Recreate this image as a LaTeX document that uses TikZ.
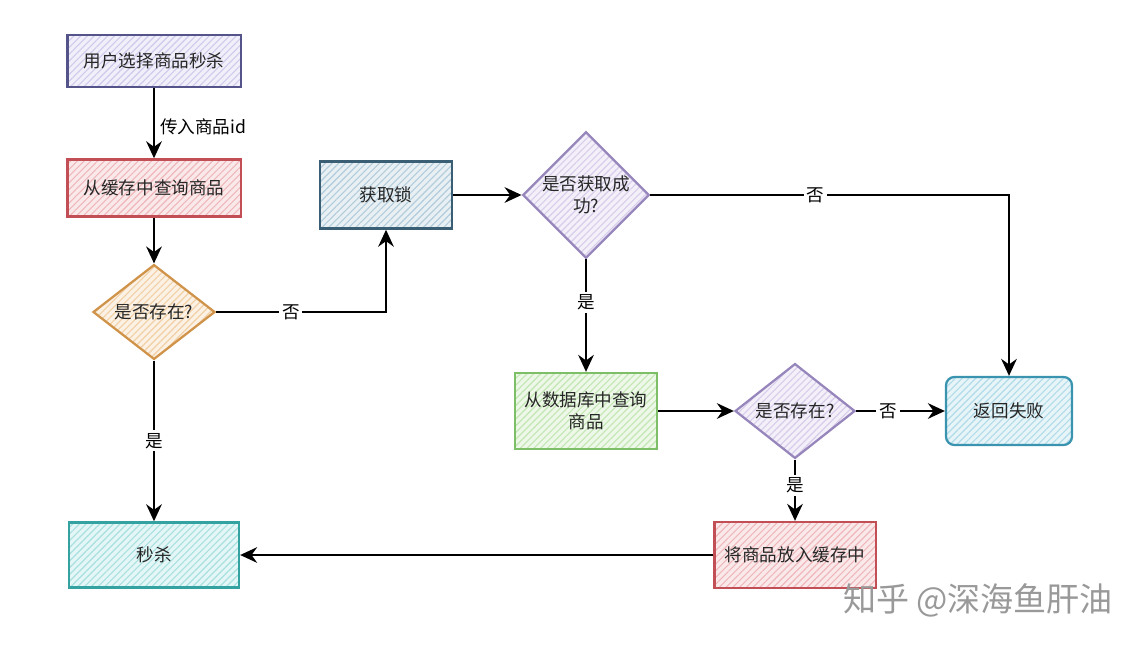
\documentclass[tikz,border=0pt]{standalone}
\usepackage{fontspec}
\setmainfont{Noto Sans CJK SC}
\usepackage{tikz}
\usetikzlibrary{arrows.meta,shapes.geometric,patterns.meta}

\definecolor{userDraw}{HTML}{55548A}  \definecolor{userFill}{HTML}{CFC9EC}
\definecolor{redDraw}{HTML}{C24F55}   \definecolor{redFill}{HTML}{F0B7BA}
\definecolor{orgDraw}{HTML}{D0934A}   \definecolor{orgFill}{HTML}{F2D0A6}
\definecolor{lockDraw}{HTML}{3A5F74}  \definecolor{lockFill}{HTML}{B2CCDB}
\definecolor{violDraw}{HTML}{9686BC}  \definecolor{violFill}{HTML}{D8CDEB}
\definecolor{failDraw}{HTML}{3A94B0}  \definecolor{failFill}{HTML}{B0DBE9}
\definecolor{grnDraw}{HTML}{7CBF66}   \definecolor{grnFill}{HTML}{C3E6B4}
\definecolor{tealDraw}{HTML}{35A2A2}  \definecolor{tealFill}{HTML}{A8E0E0}

\tikzset{
    hatch/.style={draw=#1Draw, line width=1.6pt,
        preaction={fill=#1Fill!30},
        preaction={pattern={Lines[angle=45,distance=3.4pt,line width=0.8pt]}, pattern color=#1Fill},
        font=\fontsize{12.5}{16}\selectfont, text=black!85, align=center, inner sep=2pt},
    box/.style={hatch=#1, rectangle},
    decide/.style={hatch=#1, diamond, inner sep=0pt},
    flow/.style={line width=2pt, -{Stealth[length=12pt,width=11pt]}},
    lbl/.style={fill=white, inner sep=2pt, font=\fontsize{12.5}{16}\selectfont}
}

\begin{document}
\begin{tikzpicture}[x=0.025cm, y=-0.025cm]
    \useasboundingbox (0,0) rectangle (1142,644);

    \node[box=user, minimum width=4.33cm, minimum height=1.3cm] (user) at (154,61) {用户选择商品秒杀};
    \node[box=red, minimum width=4.33cm, minimum height=1.43cm] (cache) at (154,188) {从缓存中查询商品};
    \node[decide=org, minimum width=3.05cm, minimum height=2.25cm] (exist1) at (154,312) {是否存在?};
    \node[box=lock, minimum width=3.3cm, minimum height=1.68cm] (lock) at (386,195) {获取锁};
    \node[decide=viol, minimum width=3.08cm, minimum height=2.15cm] (succ) at (586,195) {是否获取成\\功?};
    \node[box=fail, rounded corners=6pt, minimum width=3.15cm, minimum height=1.7cm] (fail) at (1009,411) {返回失败};
    \node[box=grn, minimum width=3.55cm, minimum height=1.9cm] (dbq) at (586,411) {从数据库中查询\\商品};
    \node[decide=viol, minimum width=3.0cm, minimum height=2.15cm] (exist2) at (795,411) {是否存在?};
    \node[box=red, minimum width=4.03cm, minimum height=1.65cm] (putc) at (795,555) {将商品放入缓存中};
    \node[box=teal, minimum width=4.25cm, minimum height=1.63cm] (kill) at (154,555) {秒杀};

    % arrows
    \draw[flow] (user) -- node[right, pos=0.55, font=\fontsize{12.5}{16}\selectfont] {传入商品id} (cache);
    \draw[flow] (cache) -- (exist1);
    \draw[flow] (exist1.east) -| node[lbl, pos=0.22] {否} (lock.south);
    \draw[flow] (exist1) -- node[lbl] {是} (kill);
    \draw[flow] (lock) -- (succ);
    \draw[flow] (succ.east) -| node[lbl, pos=0.23] {否} (fail.north);
    \draw[flow] (succ) -- node[lbl, pos=0.38] {是} (dbq);
    \draw[flow] (dbq) -- (exist2);
    \draw[flow] (exist2) -- node[lbl, pos=0.36] {否} (fail);
    \draw[flow] (exist2) -- node[lbl, pos=0.42] {是} (putc);
    \draw[flow] (putc) -- (kill);

    \node[text=black!40, font=\fontsize{23.5}{26}\selectfont] (mark) at (978,600) {知乎 @深海鱼肝油};
\end{tikzpicture}
\end{document}
